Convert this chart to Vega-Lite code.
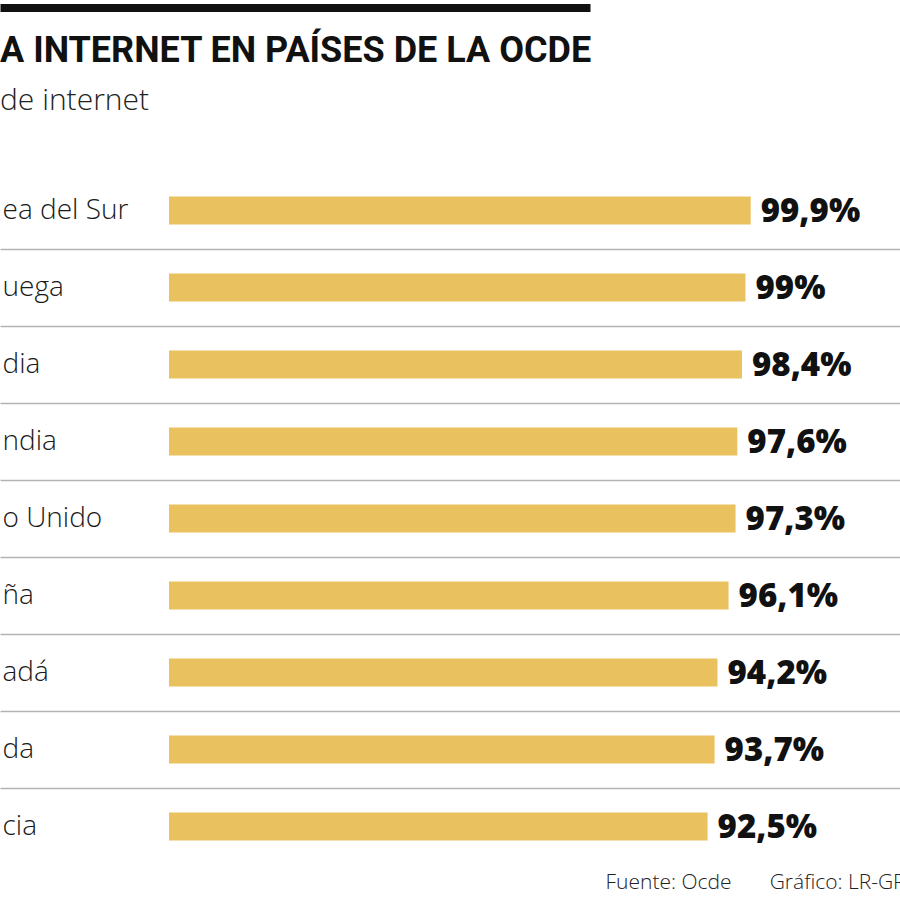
{
  "$schema": "https://vega.github.io/schema/vega-lite/v6.json",
  "width": 900,
  "height": 693,
  "padding": {"top": 7, "left": 0, "right": 0, "bottom": 0},
  "autosize": {"type": "pad"},
  "background": "white",
  "title": {
    "text": "A INTERNET EN PAÍSES DE LA OCDE",
    "subtitle": "de internet",
    "anchor": "start",
    "frame": "group",
    "offset": -109,
    "font": "Roboto",
    "fontSize": 36,
    "fontWeight": "bold",
    "color": "#111111",
    "subtitleFont": "Open Sans",
    "subtitleFontSize": 30,
    "subtitleFontWeight": 300,
    "subtitleColor": "#222222",
    "subtitlePadding": 16
  },
  "data": {
    "values": [
      {"pais": "ea del Sur", "valor": 99.9, "etiqueta": "99,9%"},
      {"pais": "uega", "valor": 99.0, "etiqueta": "99%"},
      {"pais": "dia", "valor": 98.4, "etiqueta": "98,4%"},
      {"pais": "ndia", "valor": 97.6, "etiqueta": "97,6%"},
      {"pais": "o Unido", "valor": 97.3, "etiqueta": "97,3%"},
      {"pais": "ña", "valor": 96.1, "etiqueta": "96,1%"},
      {"pais": "adá", "valor": 94.2, "etiqueta": "94,2%"},
      {"pais": "da", "valor": 93.7, "etiqueta": "93,7%"},
      {"pais": "cia", "valor": 92.5, "etiqueta": "92,5%"}
    ]
  },
  "layer": [
    {
      "mark": {"type": "bar", "height": 28, "color": "#E9C15F"},
      "encoding": {
        "y": {
          "field": "pais",
          "type": "nominal",
          "sort": null,
          "scale": {"paddingInner": 0, "paddingOuter": 0},
          "axis": {
            "title": null,
            "orient": "left",
            "domain": false,
            "ticks": false,
            "tickSize": 0,
            "labelPadding": -2,
            "labelAlign": "left",
            "labelBaseline": "middle",
            "bandPosition": 0,
            "grid": true,
            "gridColor": "#b3b3b3",
            "gridWidth": 1.5,
            "gridOpacity": {"condition": {"test": "datum.value === 'ea del Sur'", "value": 0}, "value": 1},
            "labelFont": "Open Sans",
            "labelFontSize": 28,
            "labelFontWeight": 300,
            "labelColor": "#1a1a1a",
            "labelLimit": 0
          }
        },
        "x": {
          "field": "valor",
          "type": "quantitative",
          "scale": {"domain": [-29.02, 125.54], "nice": false},
          "axis": {
            "orient": "bottom",
            "domain": false,
            "ticks": false,
            "labels": false,
            "grid": false,
            "title": "Fuente: Ocde\u00a0\u00a0\u00a0\u00a0\u00a0\u00a0\u00a0Gráfico: LR-GR",
            "titleX": 605,
            "titleY": 23,
            "titleAlign": "left",
            "titleAnchor": "start",
            "titleBaseline": "alphabetic",
            "titleFont": "Open Sans",
            "titleFontSize": 21,
            "titleFontWeight": 300,
            "titleColor": "#222222"
          }
        }
      }
    },
    {
      "mark": {
        "type": "text",
        "align": "left",
        "baseline": "middle",
        "dx": 10,
        "dy": 1,
        "font": "Open Sans",
        "fontSize": 33,
        "fontWeight": 800,
        "color": "#111111"
      },
      "encoding": {
        "y": {"field": "pais", "type": "nominal", "sort": null},
        "x": {
          "field": "valor",
          "type": "quantitative",
          "axis": {
            "orient": "top",
            "domain": true,
            "domainColor": "#111111",
            "domainWidth": 8,
            "domainDash": [590, 3000],
            "ticks": false,
            "labels": false,
            "grid": false,
            "title": null,
            "offset": 164.5
          }
        },
        "text": {"field": "etiqueta"}
      }
    }
  ],
  "resolve": {"axis": {"x": "independent"}},
  "config": {"view": {"stroke": null}}
}
